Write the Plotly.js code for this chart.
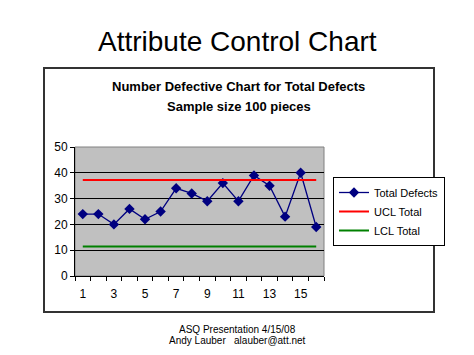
<!DOCTYPE html>
<html>
<head>
<meta charset="utf-8">
<script src="https://cdn.plot.ly/plotly-3.0.1.min.js"></script>
<style>html,body{margin:0;padding:0;background:#fff;}#chart{width:474px;height:355px;}</style>
</head>
<body>
<div id="chart"></div>
<script>
var samples = [1,2,3,4,5,6,7,8,9,10,11,12,13,14,15,16];
var totalDefects = [24,24,20,26,22,25,34,32,29,36,29,39,35,23,40,19];
var uclTotal = [37.2,37.2,37.2,37.2,37.2,37.2,37.2,37.2,37.2,37.2,37.2,37.2,37.2,37.2,37.2,37.2];
var lclTotal = [11.4,11.4,11.4,11.4,11.4,11.4,11.4,11.4,11.4,11.4,11.4,11.4,11.4,11.4,11.4,11.4];
var xTickLabels = ['1','3','5','7','9','11','13','15'];
var xTickVals = [1,3,5,7,9,11,13,15];
var yTickVals = [0,10,20,30,40,50];

var W = 474, H = 355;
function px(x){ return x / W; }
function py(y){ return 1 - y / H; }

var FONT = 'Liberation Sans, Arial, sans-serif';

var boundaries = [];
for (var i = 0; i <= samples.length; i++) boundaries.push(i + 0.5);

var traces = [
  {x: samples, y: totalDefects, name: 'Total Defects', type: 'scatter', mode: 'lines+markers',
   line: {color: '#000080', width: 1.3}, marker: {symbol: 'diamond', size: 8, color: '#000080'}},
  {x: samples, y: uclTotal, name: 'UCL Total', type: 'scatter', mode: 'lines',
   line: {color: '#ff0000', width: 2}},
  {x: samples, y: lclTotal, name: 'LCL Total', type: 'scatter', mode: 'lines',
   line: {color: '#008000', width: 2}},
  {x: [samples[0]], y: [totalDefects[0]], xaxis: 'x2', yaxis: 'y', type: 'scatter', mode: 'markers',
   showlegend: false, hoverinfo: 'skip', marker: {opacity: 0, size: 1}}
];

var layout = {
  width: W, height: H,
  margin: {l: 0, r: 0, t: 0, b: 0},
  paper_bgcolor: '#ffffff',
  plot_bgcolor: '#c0c0c0',
  font: {family: FONT, color: '#000', size: 11},
  showlegend: true,
  xaxis: {
    domain: [px(75), px(324)],
    range: [0.5, samples.length + 0.5],
    tickmode: 'array', tickvals: xTickVals, ticktext: xTickLabels,
    ticks: '',
    showgrid: false, zeroline: false,
    showline: true, linecolor: '#000', linewidth: 1,
    ticklabelstandoff: 7,
    tickfont: {size: 12, family: FONT},
    fixedrange: true
  },
  xaxis2: {
    overlaying: 'x', anchor: 'y', side: 'bottom',
    domain: [px(75), px(324)],
    range: [0.5, samples.length + 0.5],
    tickmode: 'array', tickvals: boundaries, ticktext: boundaries.map(function(){return '';}),
    ticks: 'outside', ticklen: 4, tickcolor: '#000', tickwidth: 1,
    showticklabels: true, showgrid: false, zeroline: false, showline: false,
    fixedrange: true
  },
  yaxis: {
    domain: [py(276), py(147)],
    range: [0, 50],
    tickmode: 'array', tickvals: yTickVals,
    ticks: 'outside', ticklen: 4, tickcolor: '#000',
    showgrid: true, gridcolor: '#000', gridwidth: 1,
    zeroline: false,
    showline: true, linecolor: '#000', linewidth: 1,
    tickfont: {size: 12, family: FONT},
    fixedrange: true
  },
  legend: {
    x: px(333), y: py(177), xanchor: 'left', yanchor: 'top',
    bordercolor: '#000', borderwidth: 1, bgcolor: '#fff',
    font: {size: 11, family: FONT}, tracegroupgap: 0
  },
  shapes: [
    {type: 'rect', xref: 'paper', yref: 'paper', x0: px(44), x1: px(434), y0: py(68), y1: py(312),
     line: {color: '#333', width: 2}, fillcolor: 'rgba(0,0,0,0)', layer: 'below'},
    {type: 'rect', xref: 'paper', yref: 'paper', x0: px(75), x1: px(324), y0: py(147), y1: py(276),
     line: {color: '#808080', width: 1}, fillcolor: 'rgba(0,0,0,0)', layer: 'below'}
  ],
  annotations: [
    {text: 'Attribute Control Chart', xref: 'paper', yref: 'paper', x: px(237), y: py(42),
     xanchor: 'center', yanchor: 'middle', showarrow: false, font: {size: 28, family: FONT, color: '#000'}},
    {text: '<b>Number Defective Chart for Total Defects</b>', xref: 'paper', yref: 'paper', x: px(239), y: py(86),
     xanchor: 'center', yanchor: 'middle', showarrow: false, font: {size: 13, family: FONT, color: '#000'}},
    {text: '<b>Sample size 100 pieces</b>', xref: 'paper', yref: 'paper', x: px(239), y: py(106),
     xanchor: 'center', yanchor: 'middle', showarrow: false, font: {size: 13, family: FONT, color: '#000'}},
    {text: 'ASQ Presentation 4/15/08', xref: 'paper', yref: 'paper', x: px(237), y: py(329),
     xanchor: 'center', yanchor: 'middle', showarrow: false, font: {size: 10, family: FONT, color: '#000'}},
    {text: 'Andy Lauber   alauber@att.net', xref: 'paper', yref: 'paper', x: px(237), y: py(340),
     xanchor: 'center', yanchor: 'middle', showarrow: false, font: {size: 10, family: FONT, color: '#000'}}
  ]
};

Plotly.newPlot('chart', traces, layout, {displayModeBar: false, staticPlot: true});
</script>
</body>
</html>
